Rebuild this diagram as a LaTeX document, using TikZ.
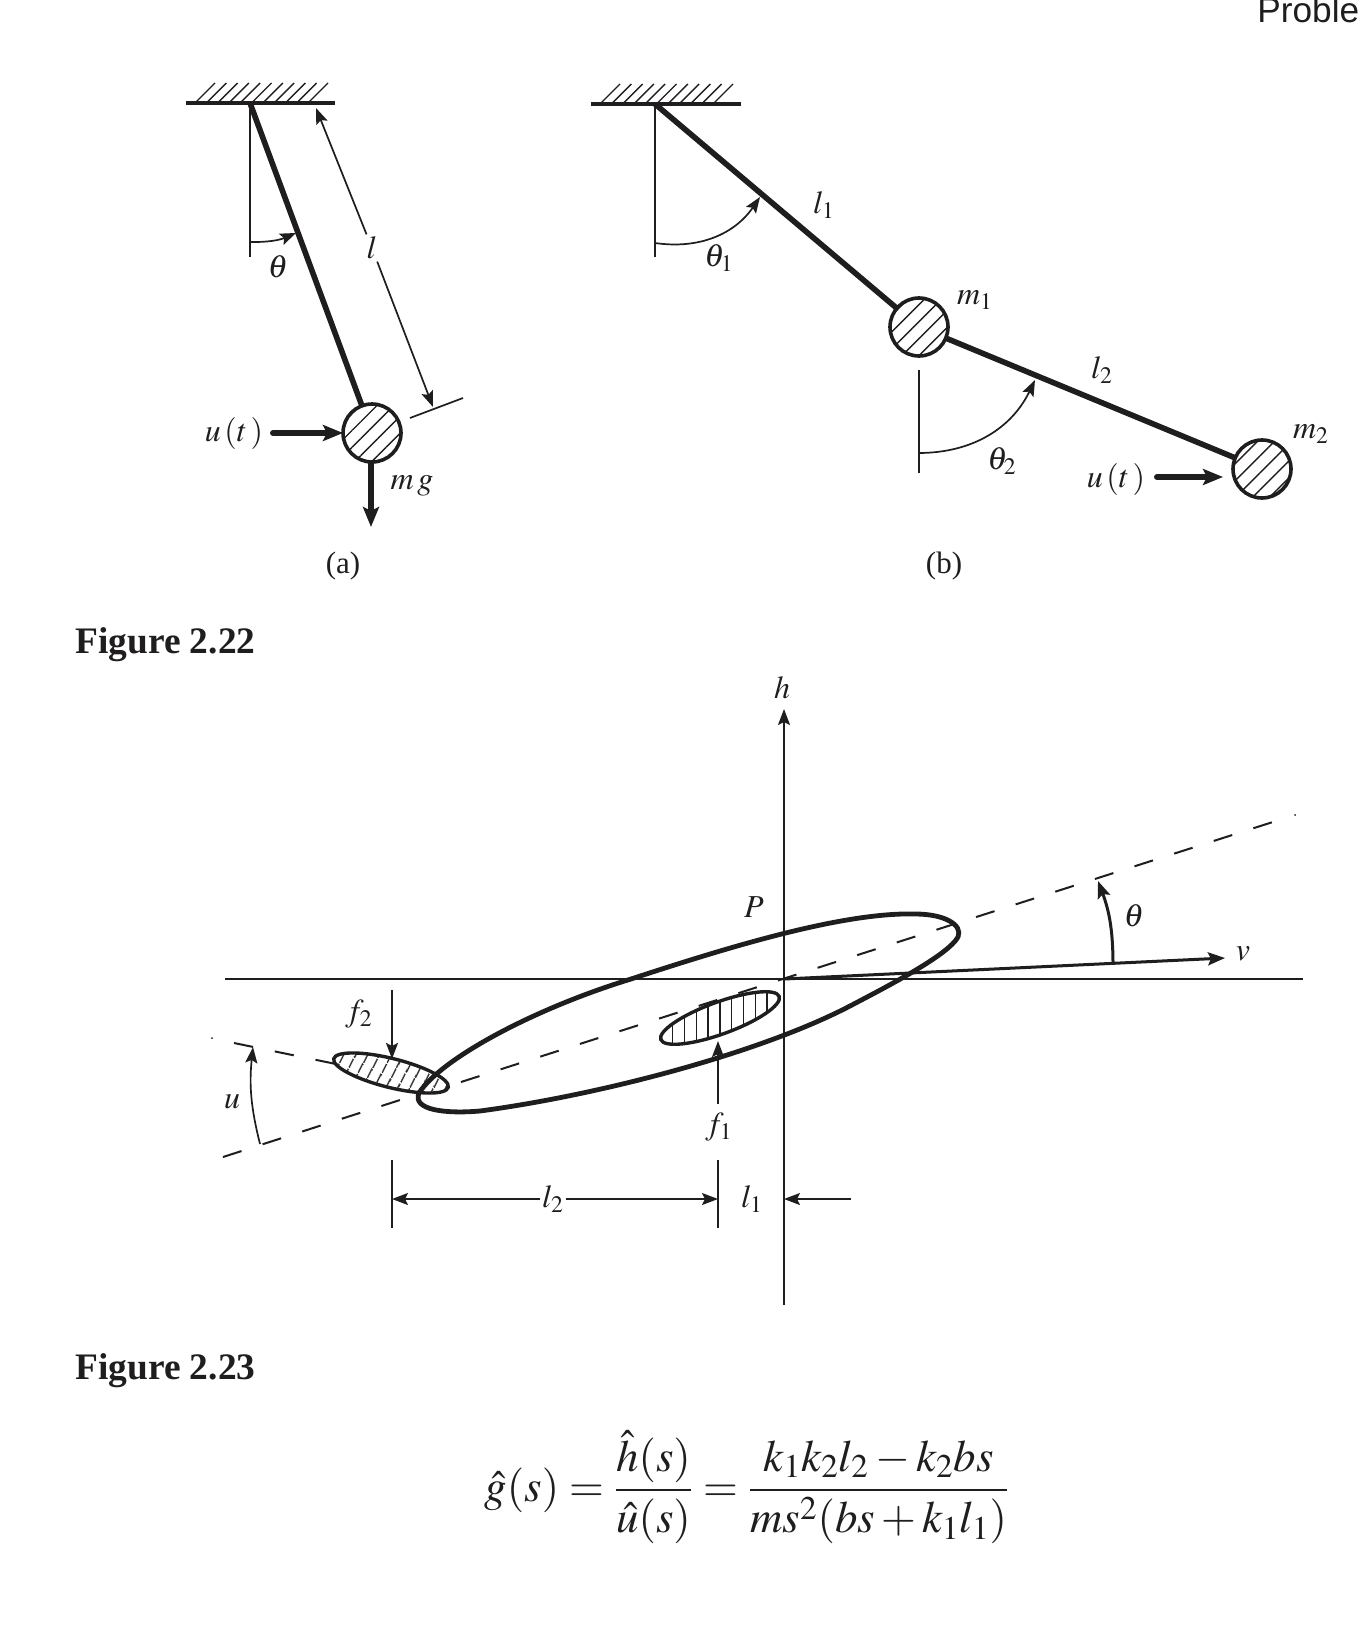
\documentclass[tikz,border=0pt]{standalone}
\usepackage{amsmath}
\usepackage{mathptmx}
\usepackage[no-math]{fontspec}
\setmainfont{Liberation Serif}
\setsansfont{Liberation Sans}
\usetikzlibrary{shapes,arrows.meta,patterns.meta}
\definecolor{inkblack}{RGB}{32,29,30}
\tikzset{
    mathlabel/.style={inner sep=1pt, text=inkblack, font=\fontsize{16}{18}\selectfont},
    captionlabel/.style={inner sep=0pt, text=inkblack, anchor=west, font=\fontsize{18.7}{20}\selectfont\bfseries},
    sublabel/.style={inner sep=0pt, text=inkblack, font=\fontsize{15.5}{17}\selectfont},
    thinline/.style={draw=inkblack, line width=0.85pt},
    hatchline/.style={draw=inkblack, line width=0.7pt},
    ceilingline/.style={draw=inkblack, line width=2.3pt},
    rodline/.style={draw=inkblack, line width=2.8pt},
    thinarrow/.style={thinline, -{Stealth[length=8pt,width=6pt,inset=1.5pt]}},
    midarrow/.style={draw=inkblack, line width=1.5pt, -{Stealth[length=8.5pt,width=6.5pt,inset=1.5pt]}},
    forcearrow/.style={draw=inkblack, line width=3pt, line cap=round, -{Stealth[length=10pt,width=8pt,inset=2pt]}},
    bob/.style={circle, draw=inkblack, line width=1.8pt, minimum size=29pt, inner sep=0pt, outer sep=0pt,
        pattern={Lines[angle=45,distance=6pt,line width=0.7pt]}, pattern color=inkblack},
    dashline/.style={draw=inkblack, line width=1pt, dash pattern=on 9.7pt off 11.1pt},
    blade/.style={ellipse, draw=inkblack, line width=1.7pt, inner sep=0pt, outer sep=0pt,
        preaction={fill=white}, pattern color=inkblack}
}
\begin{document}
\begin{tikzpicture}[x=0.5pt,y=-0.5pt]
    \useasboundingbox (0,0) rectangle (1360,1648);

    % Running head, cut off by the page
    \node[inner sep=0pt, anchor=base west, text=inkblack, font=\fontsize{17.6}{20}\selectfont\sffamily] (runninghead) at (1257,23) {Proble};

    % Single pendulum
    \begin{scope}
        \coordinate (pivotA) at (250,103);
        \coordinate (ceilLeftA) at (186,103);
        \coordinate (ceilRightA) at (335,103);
        \coordinate (plumbEndA) at (250,257);
        \coordinate (angleStartA) at (250,242);
        \coordinate (angleEndA) at (296,233);
        \coordinate (lenTopA) at (316,108);
        \coordinate (lenBottomA) at (433,407);
        \coordinate (tickLeftA) at (410,418);
        \coordinate (tickRightA) at (463,398);
        \coordinate (forceStartA) at (273,433);
        \coordinate (weightEndA) at (371,527);

        \draw[ceilingline] (ceilLeftA) -- (ceilRightA);
        \foreach \hx in {0,...,10} {
            \draw[hatchline] ({195+11.3*\hx},103) -- ++(20,-20);
        }

        \node[bob] (bobA) at (372,433) {};
        \node[mathlabel] (thetaA) at (278,267) {$\theta$};
        \node[mathlabel] (lenA) at (372,248) {$l$};
        \node[mathlabel] (forceA) at (234,433) {$u\,(t\,)$};
        \node[mathlabel] (weightA) at (412,486) {$m\,g$};
        \node[sublabel] (partA) at (343,566) {(a)};

        \draw[rodline] (pivotA) -- (bobA);
        \draw[thinline] (pivotA) -- (plumbEndA);
        \draw[thinarrow] (angleStartA) to[bend right=12] (angleEndA);
        \draw[thinarrow] (lenA) -- (lenTopA);
        \draw[thinarrow] (lenA) -- (lenBottomA);
        \draw[thinline] (tickLeftA) -- (tickRightA);
        \draw[forcearrow] (forceStartA) -- (bobA.west);
        \draw[forcearrow, line cap=butt] (bobA.south -| weightEndA) -- (weightEndA);
    \end{scope}

    % Double pendulum
    \begin{scope}
        \coordinate (pivotB) at (655,104);
        \coordinate (ceilLeftB) at (591,104);
        \coordinate (ceilRightB) at (741,104);
        \coordinate (plumbEndB) at (655,257);
        \coordinate (angleStartB) at (655,243);
        \coordinate (angleEndB) at (760,197);
        \coordinate (plumbTopC) at (919,370);
        \coordinate (plumbEndC) at (919,473);
        \coordinate (angleStartC) at (919,453);
        \coordinate (angleEndC) at (1035,380);
        \coordinate (forceStartC) at (1157,477);
        \coordinate (forceEndC) at (1223,477);

        \draw[ceilingline] (ceilLeftB) -- (ceilRightB);
        \foreach \hx in {0,...,10} {
            \draw[hatchline] ({600+11.3*\hx},104) -- ++(20,-20);
        }

        \node[bob] (bobB) at (919,327) {};
        \node[bob] (bobC) at (1262,469) {};
        \node[mathlabel] (thetaB) at (719,258) {$\theta_1$};
        \node[mathlabel] (lenB) at (824,205) {$l_1$};
        \node[mathlabel] (massB) at (975,300) {$m_1$};
        \node[mathlabel] (lenC) at (1102,370) {$l_2$};
        \node[mathlabel] (thetaC) at (1002,461) {$\theta_2$};
        \node[mathlabel] (massC) at (1311,434) {$m_2$};
        \node[mathlabel] (forceC) at (1116,479) {$u\,(t\,)$};
        \node[sublabel] (partB) at (944,566) {(b)};

        \draw[rodline] (pivotB) -- (bobB);
        \draw[rodline] (bobB) -- (bobC);
        \draw[thinline] (pivotB) -- (plumbEndB);
        \draw[thinarrow] (angleStartB) to[bend right=32] (angleEndB);
        \draw[thinline] (plumbTopC) -- (plumbEndC);
        \draw[thinarrow] (angleStartC) to[bend right=32] (angleEndC);
        \draw[forcearrow] (forceStartC) -- (forceEndC);
    \end{scope}

    \node[captionlabel] (captionA) at (75,645) {Figure 2.22};

    % Aircraft section
    \begin{scope}
        \coordinate (origin) at (784,979);
        \coordinate (axisTop) at (784,709);
        \coordinate (axisBottom) at (784,1305);
        \coordinate (axisLeft) at (225,979);
        \coordinate (axisRight) at (1303,979);
        \coordinate (chordLowStart) at (223,1157);
        \coordinate (chordLowEnd) at (400,1100);
        \coordinate (chordHighStart) at (461,1082);
        \coordinate (chordHighEnd) at (1276,821);
        \coordinate (flapStart) at (234,1043);
        \coordinate (flapEnd) at (336,1064);
        \coordinate (velocityEnd) at (1225,958);
        \coordinate (thetaFoot) at (1113,962);
        \coordinate (thetaTip) at (1098,881);
        \coordinate (flapFoot) at (260,1144);
        \coordinate (flapTip) at (253,1047);
        \coordinate (forceTwoTop) at (392,990);
        \coordinate (forceOneBottom) at (718,1104);
        \coordinate (forceOneTip) at (718,1041);
        \coordinate (tickTwoTop) at (392,1160);
        \coordinate (tickTwoBottom) at (392,1228);
        \coordinate (tickOneTop) at (718,1160);
        \coordinate (tickOneBottom) at (718,1228);
        \coordinate (dimTwo) at (392,1199);
        \coordinate (dimOne) at (718,1199);
        \coordinate (dimAxis) at (784,1199);
        \coordinate (dimRight) at (851,1199);

        \draw[thinarrow] (axisBottom) -- (axisTop);
        \draw[thinline] (axisLeft) -- (axisRight);

        % chord lines
        \draw[dashline] (chordLowStart) -- (chordLowEnd);
        \draw[dashline] (chordHighStart) -- (chordHighEnd);
        \draw[dashline] (flapStart) -- (flapEnd);
        \fill[inkblack] (1295,815) circle (1);
        \fill[inkblack] (212,1038) circle (1);

        % elevator and flap
        \node[blade, rotate=20, minimum width=63pt, minimum height=16pt,
            pattern={Lines[angle=90,distance=5.9pt,line width=0.7pt]}] (bladeOne) at (720,1018) {};
        \node[blade, rotate=-14, minimum width=59pt, minimum height=14.5pt,
            pattern={Lines[angle=62,distance=5.4pt,line width=0.8pt]}] (bladeTwo) at (391,1073) {};

        % wing outline
        \draw[draw=inkblack, line width=2.4pt] (419,1093)
            .. controls (440,1060) and (530,1010) .. (631,979)
            .. controls (720,950) and (840,912) .. (915,914)
            .. controls (945,914) and (963,925) .. (958,937)
            .. controls (948,955) and (890,985) .. (850,1006)
            .. controls (760,1053) and (600,1095) .. (480,1111)
            .. controls (445,1114) and (412,1110) .. (419,1093) -- cycle;

        \node[mathlabel] (heightLabel) at (782,688) {$h$};
        \node[mathlabel] (pointLabel) at (754,907) {$P$};
        \node[mathlabel] (velocityLabel) at (1243,954) {$v$};
        \node[mathlabel] (thetaLabel) at (1134,916) {$\theta$};
        \node[mathlabel] (flapLabel) at (232,1102) {$u$};
        \node[mathlabel] (forceTwo) at (359,1014) {$f_2$};
        \node[mathlabel] (forceOne) at (719,1127) {$f_1$};
        \node[mathlabel] (lenTwo) at (553,1199) {$l_2$};
        \node[mathlabel] (lenOne) at (752,1199) {$l_1$};

        \draw[midarrow] (origin) -- (velocityEnd);
        \draw[midarrow] (thetaFoot) to[bend right=10] (thetaTip);
        \draw[thinarrow] (flapFoot) to[bend left=10] (flapTip);
        \draw[thinarrow] (forceTwoTop) -- (forceTwoTop |- bladeTwo.north);
        \draw[thinarrow] (forceOneBottom) -- (forceOneTip);
        \draw[thinline] (tickTwoTop) -- (tickTwoBottom);
        \draw[thinline] (tickOneTop) -- (tickOneBottom);
        \draw[thinarrow] (lenTwo) -- (dimTwo);
        \draw[thinarrow] (lenTwo) -- (dimOne);
        \draw[thinarrow] (dimRight) -- (dimAxis);
    \end{scope}

    \node[captionlabel] (captionB) at (75,1371) {Figure 2.23};

    % Transfer function
    \node[inner sep=0pt, text=inkblack, font=\fontsize{22.4}{26}\selectfont] (transfer) at (747,1487)
        {$\displaystyle \hat{g}(s)=\frac{\hat{h}(s)}{\hat{u}(s)}=\frac{k_1k_2l_2-k_2bs}{ms^2(bs+k_1l_1)}$};
\end{tikzpicture}
\end{document}
